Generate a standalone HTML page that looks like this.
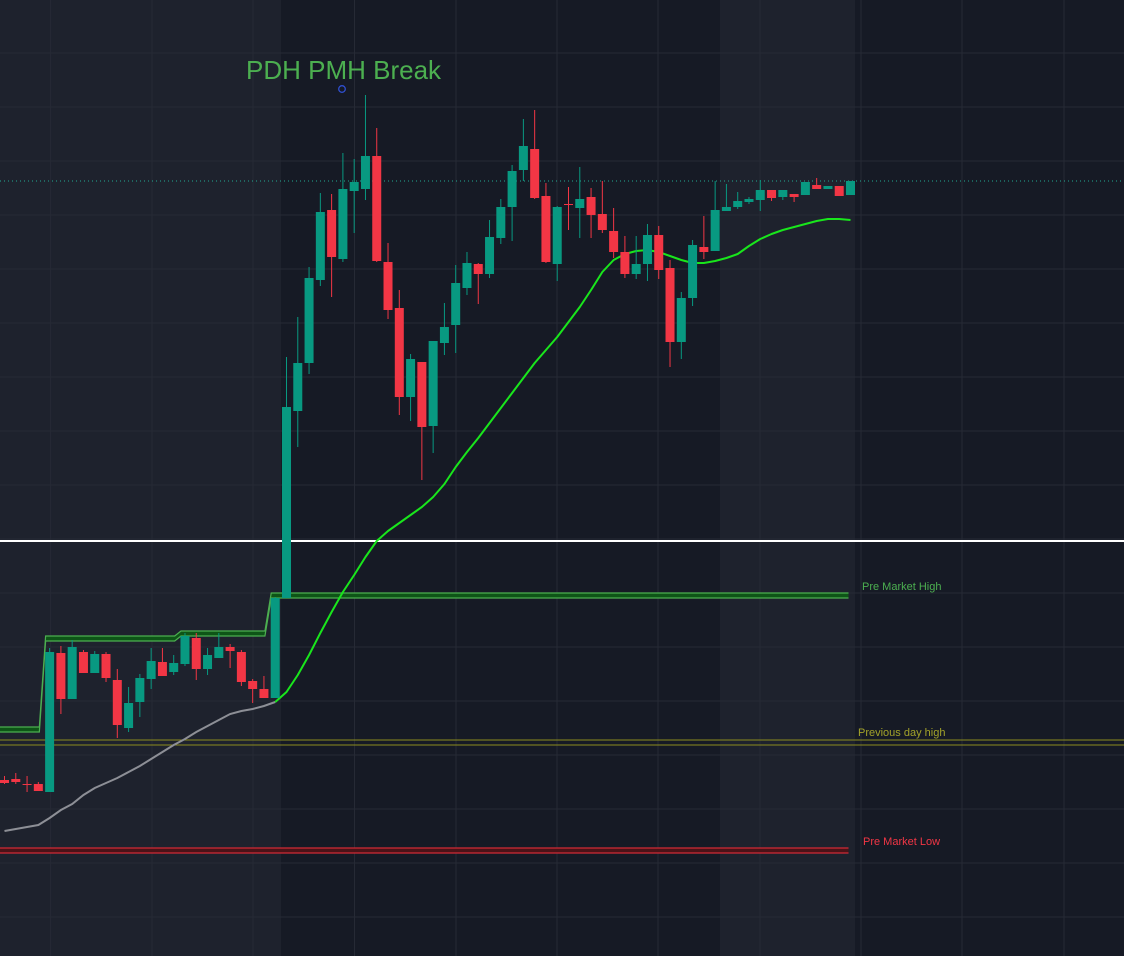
<!DOCTYPE html>
<html><head><meta charset="utf-8"><style>
html,body{margin:0;padding:0;background:#161a25;width:1124px;height:956px;overflow:hidden}
svg{display:block;font-family:"Liberation Sans",sans-serif}
</style></head><body>
<svg id="chart" width="1124" height="956" xmlns="http://www.w3.org/2000/svg">
<rect x="0" y="0" width="1124" height="956" fill="#161a25"/>
<rect x="0" y="0" width="281" height="956" fill="#1e222d"/>
<rect x="720" y="0" width="135" height="956" fill="#1e222d"/>
<g id="grid"></g>
<g id="levels"></g>
<g id="ma"></g>
<g id="candles"></g>
<text x="246" y="79" font-size="26" fill="#4caf50">PDH PMH Break</text>
<circle cx="342" cy="89" r="3.3" fill="none" stroke="#2f4fd0" stroke-width="1.3"/>
<text x="862" y="590" font-size="11" fill="#4caf50">Pre Market High</text>
<text x="858" y="736" font-size="11" fill="#a3a32a">Previous day high</text>
<text x="863" y="845" font-size="11" fill="#f23645">Pre Market Low</text>
</svg>
<script>
const opens=[22.0,22.1,21.6,21.6,20.8,34.7,30.1,34.8,32.7,34.6,32.0,27.2,29.8,32.1,33.8,32.8,33.6,36.2,33.1,34.2,35.3,34.8,31.9,31.1,30.2,40.2,58.9,63.7,72.0,79.0,74.1,80.9,81.1,84.4,73.8,69.2,60.3,63.8,57.4,65.7,67.5,71.2,73.6,72.6,76.2,79.3,83.0,85.1,80.4,73.6,79.6,79.2,80.3,78.6,76.9,74.8,72.6,73.6,76.5,73.2,65.8,70.2,75.3,74.9,78.9,79.3,79.8,80.0,81.0,80.3,80.6,80.5,81.5,81.1,81.4,80.5];
const highs=[22.4,22.7,22.4,21.8,35.2,35.4,36.0,35.0,34.9,34.8,33.1,31.3,32.6,35.2,35.2,34.5,36.7,36.7,35.2,36.7,35.6,35.0,32.1,32.4,40.3,64.3,68.3,73.3,80.7,80.6,84.7,84.1,90.5,87.2,75.7,71.0,64.6,63.8,65.9,69.7,73.5,74.8,73.7,78.0,80.1,83.5,88.1,89.0,81.7,79.4,81.3,83.3,81.2,81.9,79.2,76.4,76.4,77.6,77.4,74.0,70.8,76.0,78.4,81.9,81.6,80.8,80.3,82.0,81.0,81.0,80.6,81.8,82.2,81.4,81.4,81.9];
const lows=[21.6,21.6,20.8,20.9,20.8,28.6,30.1,32.7,32.7,31.8,26.2,26.8,28.3,31.1,32.4,32.5,33.4,32.0,32.5,34.2,33.2,31.4,29.7,30.2,30.2,40.2,55.3,62.6,71.4,70.3,73.8,76.7,80.0,73.8,68.1,58.5,57.9,52.0,54.7,64.5,64.7,70.5,69.6,72.2,75.6,75.9,81.9,80.1,73.7,71.9,77.0,76.2,76.2,76.7,74.2,72.2,72.1,71.9,72.1,63.3,64.1,69.4,74.1,74.9,78.9,79.1,79.6,78.9,79.9,80.0,79.8,80.5,81.1,81.1,80.4,80.5];
const closes=[21.7,21.8,21.55,20.9,34.8,30.1,35.3,32.7,34.6,32.2,27.5,29.7,32.2,33.9,32.4,33.7,36.4,33.1,34.5,35.3,34.9,31.8,31.1,30.2,40.2,59.3,63.7,72.2,78.8,74.3,81.1,81.8,84.4,73.9,69.0,60.3,64.1,57.3,65.9,67.3,71.7,73.7,72.6,76.3,79.3,82.9,85.4,80.2,73.8,79.3,79.55,80.1,78.5,77.0,74.8,72.6,73.6,76.5,73.0,65.8,70.2,75.5,74.8,79.0,79.3,79.9,80.1,81.0,80.2,81.0,80.3,81.8,81.1,81.4,80.4,81.9];
const vwapPre=[16.9,17.1,17.3,17.5,18.2,19.0,19.6,20.5,21.2,21.7,22.2,22.8,23.4,24.1,24.8,25.5,26.1,26.8,27.4,28.0,28.6,28.9,29.1,29.4,29.8];
const vwapMain=[29.8,30.8,32.5,34.5,36.7,38.8,40.8,42.5,44.3,45.9,46.9,47.7,48.5,49.3,50.3,51.6,53.3,54.8,56.2,57.7,59.2,60.7,62.2,63.7,65.0,66.3,67.8,69.3,71.0,72.8,74.0,74.6,74.9,75.0,74.8,74.4,74.0,73.7,73.7,73.9,74.2,74.6,75.4,76.1,76.6,77.0,77.3,77.6,77.9,78.1,78.1,78.0];
const pmhTop=[27.3,27.3,27.3,27.3,36.4,36.4,36.4,36.4,36.4,36.4,36.4,36.4,36.4,36.4,36.4,36.4,36.9,36.9,36.9,36.9,36.9,36.9,36.9,36.9,40.7];
const pmhWidth=0.5;
const keyLevel=45.9, pdhLevels=[26.0,25.5], pmlLevels=[15.2,14.7], lastPrice=81.9;
const gridPrices=[94.7,89.3,83.9,78.5,73.1,67.7,62.3,56.9,51.5,46.1,40.7,35.3,29.9,24.5,19.1,13.7,8.3];
const gridXs=[50.6,152,253,354.5,456,557,658,760,861,962,1064];

const NS="http://www.w3.org/2000/svg";
const X0=4.5, STEP=11.28;
function xs(i){return X0+STEP*i;}
function ys(p){return 1000-p*10;}
function mk(tag,attrs,parent){const e=document.createElementNS(NS,tag);for(const k in attrs)e.setAttribute(k,attrs[k]);parent.appendChild(e);return e;}

const grid=document.getElementById('grid');
gridPrices.forEach(p=>{const l=mk('line',{x1:0,x2:1124,y1:ys(p),y2:ys(p),stroke:'#262a35','stroke-width':1},grid);

});
gridXs.forEach(x=>{const l=mk('line',{x1:x,x2:x,y1:0,y2:956,stroke:'#262a35','stroke-width':1},grid);

});

const lv=document.getElementById('levels');
// last price dotted
let lp=mk('line',{x1:0,x2:1124,y1:ys(lastPrice),y2:ys(lastPrice),stroke:'#22ab94','stroke-width':1,'stroke-dasharray':'1 3'},lv);


// key white level
let kl=mk('line',{x1:0,x2:1124,y1:ys(keyLevel),y2:ys(keyLevel),stroke:'#ffffff','stroke-width':2},lv);


// PDH
pdhLevels.forEach(p=>{const l=mk('line',{x1:0,x2:1124,y1:ys(p),y2:ys(p),stroke:'#8c8c1e','stroke-width':1},lv);

});
// PML band
let pmlB=mk('rect',{x:0,y:ys(pmlLevels[0]),width:xs(75)-2,height:ys(pmlLevels[1])-ys(pmlLevels[0]),fill:'#4a1318'},lv);


pmlLevels.forEach(p=>{const l=mk('line',{x1:0,x2:xs(75)-2,y1:ys(p),y2:ys(p),stroke:'#d02a36','stroke-width':1.2},lv);

});
// PMH stepped band
function pmhAt(i){return pmhTop[Math.min(i,pmhTop.length-1)];}
let topPts=[],botPts=[];
topPts.push([0,pmhAt(0)]);
for(let i=0;i<=75;i++){topPts.push([xs(i)-4.5,pmhAt(i)]);}
topPts.push([xs(75)-2,pmhAt(75)]);
// simplified: only keep changes (slanted transitions)
let pts=[[0,pmhAt(0)]];
for(let i=1;i<=75;i++){if(pmhAt(i)!==pmhAt(i-1)){pts.push([xs(i-1)+1,pmhAt(i-1)]);pts.push([xs(i)-4,pmhAt(i)]);}}
pts.push([xs(75)-2,pmhAt(75)]);
const topStr=pts.map(p=>p[0]+','+ys(p[1])).join(' ');
const botStr=pts.map(p=>p[0]+','+ys(p[1]-pmhWidth)).join(' ');
const bandStr=pts.map(p=>p[0]+','+ys(p[1])).concat(pts.slice().reverse().map(p=>p[0]+','+ys(p[1]-pmhWidth))).join(' ');
let pb=mk('polygon',{points:bandStr,fill:'#0e5517'},lv);


let pt=mk('polyline',{points:topStr,fill:'none',stroke:'#4caf50','stroke-width':1.2},lv);


let pbl=mk('polyline',{points:botStr,fill:'none',stroke:'#4caf50','stroke-width':1.2},lv);



// moving averages
const ma=document.getElementById('ma');
let g1=mk('polyline',{points:vwapPre.map((v,i)=>xs(i)+','+ys(v)).join(' '),fill:'none',stroke:'#8d8f96','stroke-width':2},ma);


let g2=mk('polyline',{points:vwapMain.map((v,i)=>xs(i+24)+','+ys(v)).join(' '),fill:'none',stroke:'#19e61c','stroke-width':2,'stroke-linejoin':'round'},ma);



// candles
const cg=document.getElementById('candles');
for(let i=0;i<opens.length;i++){
  const up=closes[i]>=opens[i];
  const col=up?'#089981':'#f23645';
  const x=xs(i);
  const w=mk('line',{x1:x,x2:x,y1:ys(highs[i]),y2:ys(lows[i]),stroke:col,'stroke-width':1},cg);
  
  
  const top=ys(Math.max(opens[i],closes[i])), bot=ys(Math.min(opens[i],closes[i]));
  const b=mk('rect',{x:x-4.5,y:top,width:9,height:Math.max(1,bot-top),fill:col},cg);
  
  
}
</script>
</body></html>
